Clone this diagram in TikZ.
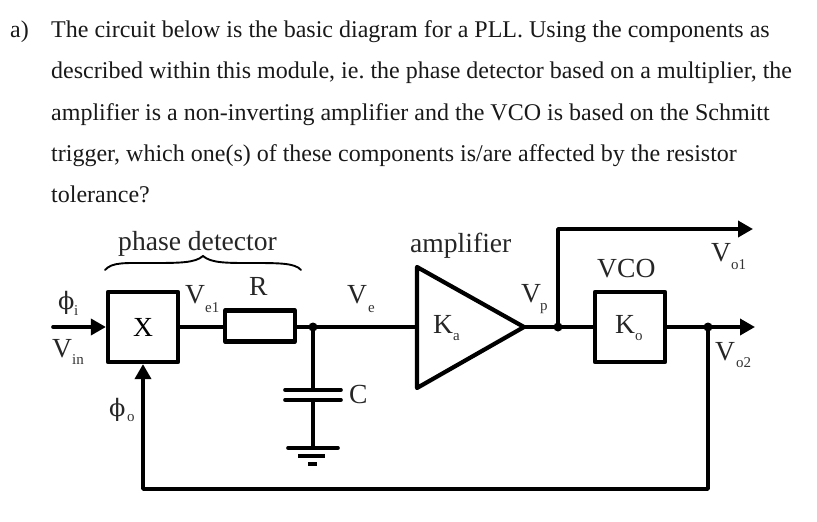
\documentclass[tikz,border=0pt]{standalone}
\usepackage{fontspec}
\setmainfont{Liberation Serif}
\usetikzlibrary{arrows.meta}
\newfontfamily\symfont{DejaVu Serif}
\frenchspacing
\tikzset{
 x=1pt,y=-1pt,
 wire/.style={line width=3.6pt,line cap=round,line join=round},
 blockbox/.style={draw,line width=4.2pt,line join=round,minimum width=70pt,minimum height=70pt,inner sep=0pt},
 arr/.style={-{Triangle[length=15pt,width=16pt]}},
 para/.style={anchor=base west,inner sep=0pt,font=\fontsize{24}{25}\selectfont,text=black!90},
 lab/.style={anchor=base west,inner sep=0pt,font=\fontsize{27.6}{29}\selectfont,text=black!85},
 phil/.style={anchor=base west,inner sep=0pt,font=\fontsize{24}{26}\selectfont,text=black!85},
 sub/.style={anchor=base west,inner sep=0pt,font=\fontsize{15}{17}\selectfont,text=black!80},
 dotn/.style={circle,fill=black,inner sep=0pt,minimum size=9pt},
}
\begin{document}
\begin{tikzpicture}
\useasboundingbox (0,0) rectangle (817,522);
\node[para] (ta) at (10,37) {a)};
\node[para] (t1) at (51,37) {The circuit below is the basic diagram for a PLL. Using the components as};
\node[para] (t2) at (51,78) {described within this module, ie. the phase detector based on a multiplier, the};
\node[para] (t3) at (51,120) {amplifier is a non-inverting amplifier and the VCO is based on the Schmitt};
\node[para] (t4) at (51,161) {trigger, which one(s) of these components is/are affected by the resistor};
\node[para] (t5) at (51,202) {tolerance?};
% blocks
\node[blockbox] (x) at (143,327) {\fontsize{27.6}{29}\selectfont X};
\node[draw,line width=4.2pt,line join=round,minimum width=70pt,minimum height=31pt,inner sep=0pt] (r) at (260,326) {};
\node[blockbox] (vco) at (630,327) {};
\coordinate (in) at (53,327);
\coordinate (tl) at (417,267); \coordinate (bl) at (417,388); \coordinate (tip) at (524,327);
\coordinate (amin) at (417,327);
\draw[line width=4.2pt,line join=round] (tl) -- (tip) -- (bl) -- cycle;
\node[dotn] (d1) at (313,327) {};
\node[dotn] (d2) at (558,327) {};
\node[dotn] (d3) at (708,327) {};
\coordinate (o1) at (753,229);
\coordinate (o2) at (755,327);
\coordinate (c1) at (313,390); \coordinate (c2) at (313,400);
\coordinate (gnd) at (313,448);
\coordinate (fb) at (143,489);
\draw[wire,arr] (in) -- (x.west);
\draw[wire] (x.east) -- (r.west |- x.east);
\draw[wire] (r.east |- d1) -- (d1) -- (amin);
\draw[wire] (tip) -- (d2) -- (vco.west);
\draw[wire,arr] (vco.east) -- (d3) -- (o2);
\draw[wire,arr] (d2) -- (558,229) -- (o1);
\draw[wire] (d1) -- (c1);
\draw[wire] (c2) -- (gnd);
\draw[wire] (285,390) -- (341,390);
\draw[wire] (285,400) -- (341,400);
\draw[wire] (288,448) -- (338,448);
\draw[wire,line width=4pt,line cap=butt] (298,456) -- (325,456);
\draw[wire,line width=4pt,line cap=butt] (308,464) -- (317,464);
\draw[wire,arr] (d3) -- (708,489) -- (fb) -- (x.south);
% brace
\draw[line width=1.9pt,line cap=round] (105,270) .. controls (112,262) and (125,263) .. (150,263) .. controls (180,263) and (195,263) .. (203,256) .. controls (211,263) and (226,263) .. (250,263) .. controls (280,263) and (295,263) .. (301,270);
% labels
\node[lab] (pd) at (118,250) {phase detector};
\node[lab] (amp) at (410,252) {amplifier};
\node[lab] (vcot) at (597,277) {VCO};
\node[lab] (rl) at (249,295) {R};
\node[lab] (cl) at (349,403) {C};
\node[lab] (ka) at (433,333) {K};\node[sub] (kas) at (453,340) {a};
\node[lab] (ko) at (615,333) {K};\node[sub] (kos) at (635,340) {o};
\node[lab] (ve1) at (185,303) {V};\node[sub] (ve1s) at (205,312) {e1};
\node[lab] (ve) at (347,303) {V};\node[sub] (ves) at (368,312) {e};
\node[lab] (vp) at (521,302) {V};\node[sub] (vps) at (540,310) {p};
\node[lab] (vo1) at (711,261) {V};\node[sub] (vo1s) at (731,269) {o1};
\node[lab] (vo2) at (715,360) {V};\node[sub] (vo2s) at (736,367) {o2};
\node[lab] (vin) at (52,357) {V};\node[sub] (vins) at (72,364) {in};
\node[phil] (phi) at (58,309) {\symfont ϕ};\node[sub] (phis) at (74,315) {i};
\node[phil] (pho) at (109,416) {\symfont ϕ};\node[sub] (phos) at (127,421) {o};
\end{tikzpicture}
\end{document}
